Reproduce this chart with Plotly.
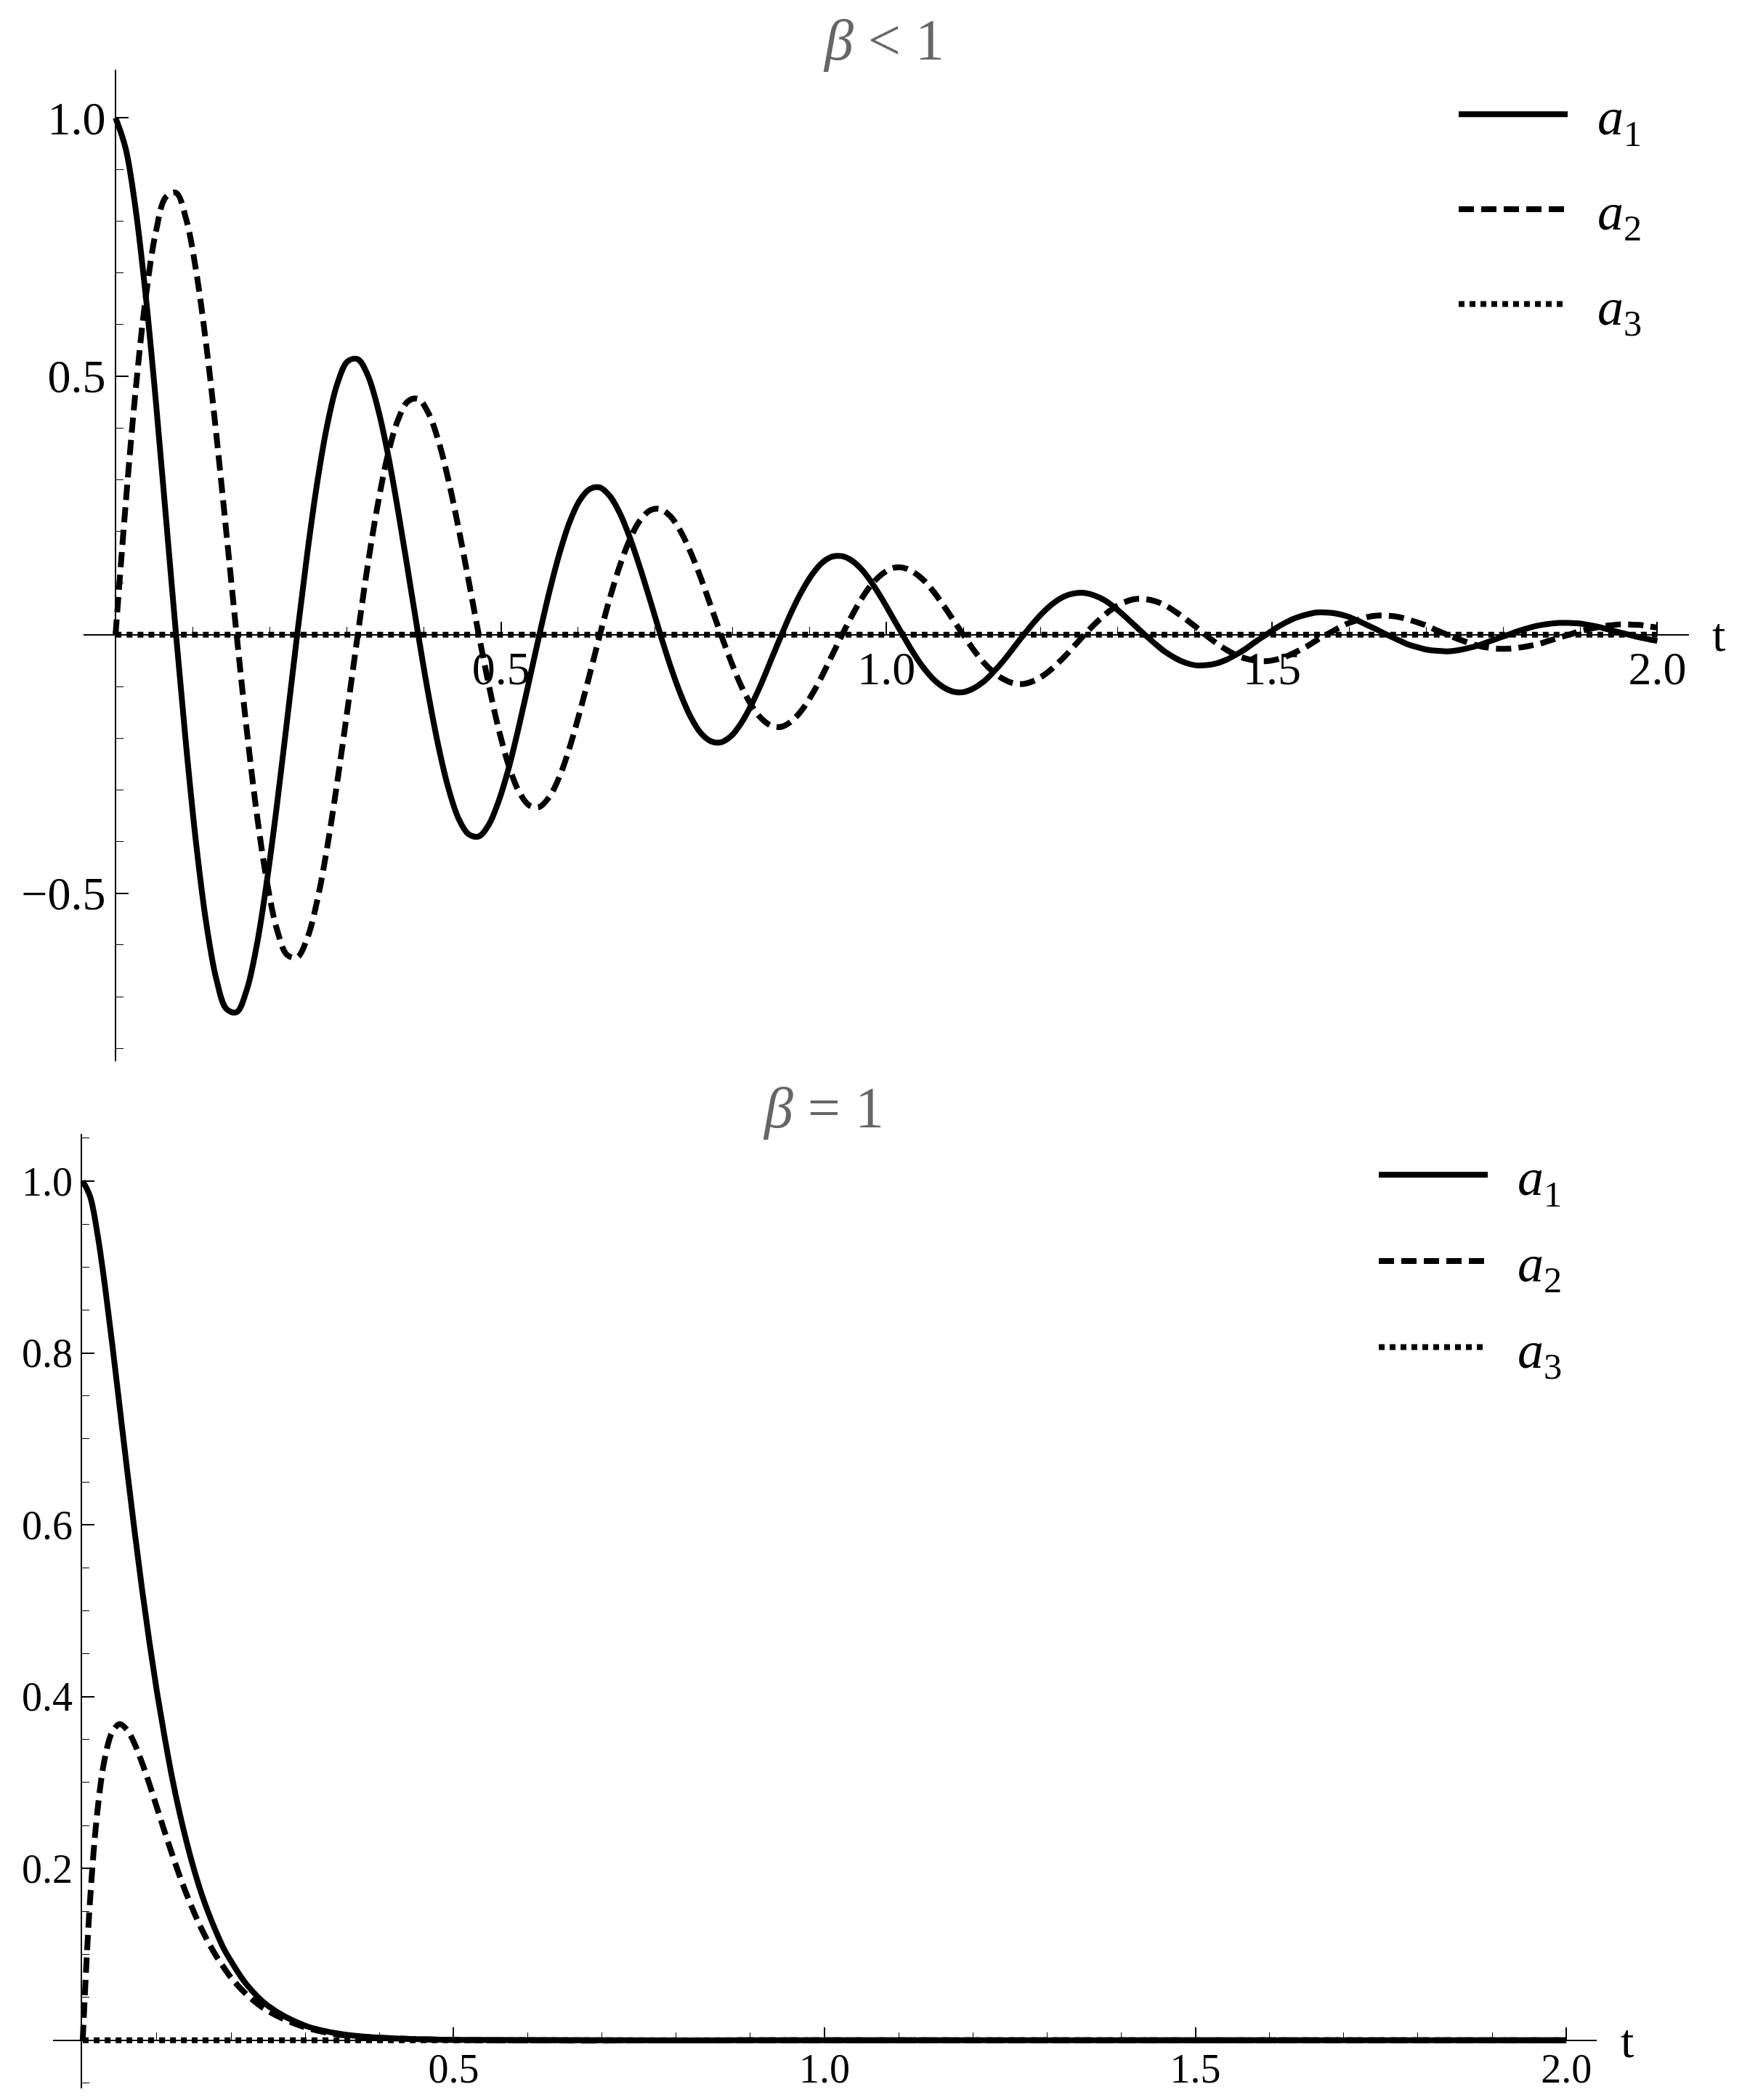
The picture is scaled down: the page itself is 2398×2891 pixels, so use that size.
import plotly.graph_objects as go

# beta < 1 : damped oscillation
t_under = [0, 0.0131, 0.0262, 0.0393, 0.0524, 0.0654, 0.0785, 0.0916, 0.1047, 0.1178, 0.1309, 0.1440,
           0.1571, 0.1702, 0.1833, 0.1963, 0.2094, 0.2225, 0.2356, 0.2487, 0.2618, 0.2749, 0.2880, 0.3011,
           0.3142, 0.3272, 0.3403, 0.3534, 0.3665, 0.3796, 0.3927, 0.4058, 0.4189, 0.4320, 0.4451, 0.4581,
           0.4712, 0.4843, 0.4974, 0.5105, 0.5236, 0.5367, 0.5498, 0.5629, 0.5760, 0.5890, 0.6021, 0.6152,
           0.6283, 0.6414, 0.6545, 0.6676, 0.6807, 0.6938, 0.7069, 0.7199, 0.7330, 0.7461, 0.7592, 0.7723,
           0.7854, 0.7985, 0.8116, 0.8247, 0.8378, 0.8508, 0.8639, 0.8770, 0.8901, 0.9032, 0.9163, 0.9294,
           0.9425, 0.9556, 0.9687, 0.9817, 0.9948, 1.0079, 1.0210, 1.0341, 1.0472, 1.0603, 1.0734, 1.0865,
           1.0996, 1.1126, 1.1257, 1.1388, 1.1519, 1.1650, 1.1781, 1.1912, 1.2043, 1.2174, 1.2305, 1.2435,
           1.2566, 1.2697, 1.2828, 1.2959, 1.3090, 1.3221, 1.3352, 1.3483, 1.3614, 1.3744, 1.3875, 1.4006,
           1.4137, 1.4268, 1.4399, 1.4530, 1.4661, 1.4792, 1.4923, 1.5053, 1.5184, 1.5315, 1.5446, 1.5577,
           1.5708, 1.5839, 1.5970, 1.6101, 1.6232, 1.6362, 1.6493, 1.6624, 1.6755, 1.6886, 1.7017, 1.7148,
           1.7279, 1.7410, 1.7541, 1.7671, 1.7802, 1.7933, 1.8064, 1.8195, 1.8326, 1.8457, 1.8588, 1.8719,
           1.8850, 1.8980, 1.9111, 1.9242, 1.9373, 1.9504, 1.9635, 1.9766, 1.9897, 2.0]
a1_under = [1.000, 0.941, 0.822, 0.654, 0.450, 0.227, 0, -0.215, -0.406, -0.559, -0.667, -0.724,
            -0.730, -0.687, -0.600, -0.477, -0.329, -0.166, 0, 0.157, 0.296, 0.408, 0.487, 0.529,
            0.533, 0.502, 0.438, 0.349, 0.240, 0.121, 0, -0.115, -0.216, -0.298, -0.356, -0.386,
            -0.390, -0.367, -0.320, -0.255, -0.175, -0.088, 0, 0.084, 0.158, 0.218, 0.260, 0.282,
            0.285, 0.268, 0.234, 0.186, 0.128, 0.065, 0, -0.061, -0.115, -0.159, -0.190, -0.206,
            -0.208, -0.196, -0.171, -0.136, -0.094, -0.047, 0, 0.045, 0.084, 0.116, 0.139, 0.151,
            0.152, 0.143, 0.125, 0.099, 0.068, 0.034, 0, -0.033, -0.062, -0.085, -0.101, -0.110,
            -0.111, -0.104, -0.091, -0.072, -0.050, -0.025, 0, 0.024, 0.045, 0.062, 0.074, 0.080,
            0.081, 0.076, 0.067, 0.053, 0.036, 0.018, 0, -0.017, -0.033, -0.045, -0.054, -0.059,
            -0.059, -0.056, -0.049, -0.039, -0.027, -0.013, 0, 0.013, 0.024, 0.033, 0.039, 0.043,
            0.043, 0.041, 0.036, 0.028, 0.019, 0.010, 0, -0.009, -0.018, -0.024, -0.029, -0.031,
            -0.032, -0.030, -0.026, -0.021, -0.014, -0.007, 0, 0.007, 0.013, 0.018, 0.021, 0.023,
            0.023, 0.022, 0.019, 0.015, 0.010, 0.005, 0, -0.005, -0.009, -0.012]
a2_under = [0, 0.252, 0.475, 0.654, 0.780, 0.847, 0.855, 0.804, 0.702, 0.559, 0.385, 0.194,
            0, -0.184, -0.347, -0.477, -0.570, -0.619, -0.624, -0.587, -0.513, -0.408, -0.281, -0.142,
            0, 0.135, 0.253, 0.349, 0.416, 0.452, 0.456, 0.429, 0.375, 0.298, 0.205, 0.104,
            0, -0.098, -0.185, -0.255, -0.304, -0.330, -0.333, -0.313, -0.274, -0.218, -0.150, -0.076,
            0, 0.072, 0.135, 0.186, 0.222, 0.241, 0.243, 0.229, 0.200, 0.159, 0.110, 0.055,
            0, -0.052, -0.099, -0.136, -0.162, -0.176, -0.178, -0.167, -0.146, -0.116, -0.080, -0.040,
            0, 0.038, 0.072, 0.099, 0.118, 0.129, 0.130, 0.122, 0.107, 0.085, 0.058, 0.029,
            0, -0.028, -0.053, -0.072, -0.086, -0.094, -0.095, -0.089, -0.078, -0.062, -0.043, -0.022,
            0, 0.020, 0.038, 0.053, 0.063, 0.069, 0.069, 0.065, 0.057, 0.045, 0.031, 0.016,
            0, -0.015, -0.028, -0.039, -0.046, -0.050, -0.051, -0.048, -0.042, -0.033, -0.023, -0.011,
            0, 0.011, 0.021, 0.028, 0.034, 0.037, 0.037, 0.035, 0.030, 0.024, 0.017, 0.008,
            0, -0.008, -0.015, -0.021, -0.025, -0.027, -0.027, -0.025, -0.022, -0.018, -0.012, -0.006,
            0, 0.006, 0.011, 0.015, 0.018, 0.020, 0.020, 0.019, 0.016, 0.014]
a3_under = [0, 0, 0]
t_a3 = [0, 1.0, 2.0]

# beta = 1 : critical damping
t_crit = [0, 0.01, 0.02, 0.03, 0.04, 0.05, 0.06, 0.07, 0.08, 0.09, 0.10,
          0.11, 0.12, 0.13, 0.14, 0.15, 0.16, 0.17, 0.18, 0.19, 0.20,
          0.22, 0.25, 0.30, 0.35, 0.40, 0.50, 1.0, 1.5, 2.0]
a1_crit = [1.000, 0.982, 0.938, 0.878, 0.809, 0.736, 0.663, 0.592, 0.525, 0.463, 0.406,
           0.355, 0.308, 0.267, 0.231, 0.199, 0.171, 0.147, 0.126, 0.107, 0.092,
           0.066, 0.040, 0.017, 0.007, 0.003, 0.0005, 0, 0, 0]
a2_crit = [0, 0.164, 0.268, 0.329, 0.359, 0.368, 0.361, 0.345, 0.323, 0.298, 0.271,
           0.244, 0.218, 0.193, 0.170, 0.149, 0.130, 0.113, 0.098, 0.085, 0.073,
           0.054, 0.034, 0.015, 0.006, 0.003, 0.0004, 0, 0, 0]
a3_crit = [0, 0, 0]

x_ticks = [0.5, 1.0, 1.5, 2.0]
x_ticktext = ["0.5", "1.0", "1.5", "2.0"]
y_ticks_top = [-0.5, 0.5, 1.0]
y_ticktext_top = ["\u22120.5", "0.5", "1.0"]
y_ticks_bot = [0.2, 0.4, 0.6, 0.8, 1.0]
y_ticktext_bot = ["0.2", "0.4", "0.6", "0.8", "1.0"]

GAP = "\u00a0\u00a0"
names = [GAP + "<i>a</i><sub>1</sub>", GAP + "<i>a</i><sub>2</sub>", GAP + "<i>a</i><sub>3</sub>"]
LW = 8
dashes = ["solid", "21px,10px", "8px,7px"]

W, H = 2398, 2891
SERIF = "Liberation Serif"

fig = go.Figure()

top = [(t_under, a1_under), (t_under, a2_under), (t_a3, a3_under)]
for i, (xs, ys) in enumerate(top):
    fig.add_trace(go.Scatter(x=xs, y=ys, mode="lines", name=names[i],
                             line=dict(color="black", width=LW, dash=dashes[i],
                                       shape="spline", smoothing=1.0, simplify=False),
                             xaxis="x", yaxis="y", legend="legend",
                             legendgroup="top%d" % i))

bot = [(t_crit, a1_crit), (t_crit, a2_crit), (t_a3, a3_crit)]
for i, (xs, ys) in enumerate(bot):
    fig.add_trace(go.Scatter(x=xs, y=ys, mode="lines", name=names[i],
                             line=dict(color="black", width=LW, dash=dashes[i],
                                       shape="spline", smoothing=1.0, simplify=False),
                             xaxis="x2", yaxis="y2", legend="legend2",
                             legendgroup="bot%d" % i))

top_xr = [-0.0415, 2.041]
top_yr = [-0.825, 1.093]
bot_xr = [-0.040, 2.041]
bot_yr = [-0.056, 1.055]

tick_font = dict(family=SERIF, size=64, color="black")
tick_font_b = dict(family=SERIF, size=56, color="black")

def xax(dom, rng, pos, font):
    return dict(domain=dom, range=rng, anchor="free", position=pos,
                showline=True, linecolor="black", linewidth=1.5,
                showgrid=False, zeroline=False,
                ticks="inside", ticklen=17, tickwidth=1.5, tickcolor="black",
                tickvals=x_ticks, ticktext=x_ticktext, tickfont=font,
                ticklabelstandoff=-10,
                minor=dict(ticks="inside", ticklen=10, tickwidth=1.2,
                           tickcolor="black", dtick=0.1, tick0=0, showgrid=False))

def yax(dom, rng, pos, vals, text, mdt, font):
    return dict(domain=dom, range=rng, anchor="free", position=pos,
                showline=True, linecolor="black", linewidth=1.5,
                showgrid=False, zeroline=False,
                ticks="inside", ticklen=17, tickwidth=1.5, tickcolor="black",
                tickvals=vals, ticktext=text, tickfont=font,
                minor=dict(ticks="inside", ticklen=10, tickwidth=1.2,
                           tickcolor="black", dtick=mdt, tick0=0, showgrid=False))

fig.update_layout(
    width=W, height=H, autosize=False,
    margin=dict(l=0, r=0, t=0, b=0),
    paper_bgcolor="white", plot_bgcolor="white",
    xaxis=xax([107 / W, 2317 / W], top_xr, 1 - 866 / H, tick_font),
    yaxis=yax([1 - 1453 / H, 1 - 88 / H], top_yr, 151 / W,
              y_ticks_top, y_ticktext_top, 0.1, tick_font),
    xaxis2=xax([65 / W, 2190 / W], bot_xr, 1 - 2801 / H, tick_font_b),
    yaxis2=yax([1 - 2867 / H, 1 - 1553 / H], bot_yr, 104 / W,
               y_ticks_bot, y_ticktext_bot, 0.05, tick_font_b),
    legend=dict(x=1995 / W, y=1 - 96 / H, xanchor="left", yanchor="top",
                bgcolor="rgba(0,0,0,0)", itemwidth=150, traceorder="grouped",
                tracegroupgap=34, font=dict(family=SERIF, size=72, color="black")),
    legend2=dict(x=1885 / W, y=1 - 1556 / H, xanchor="left", yanchor="top",
                 bgcolor="rgba(0,0,0,0)", itemwidth=150, traceorder="grouped",
                 tracegroupgap=22, font=dict(family=SERIF, size=72, color="black")),
    annotations=[
        dict(text="<i>β</i> &lt; 1", x=1208 / W, y=1 - 47 / H, xref="paper", yref="paper",
             showarrow=False, xanchor="center", yanchor="middle",
             font=dict(family=SERIF, size=80, color="#666666")),
        dict(text="<i>β</i> = 1", x=1125 / W, y=1 - 1517 / H, xref="paper", yref="paper",
             showarrow=False, xanchor="center", yanchor="middle",
             font=dict(family=SERIF, size=80, color="#666666")),
        dict(text="t", x=2358 / W, y=1 - 866 / H, xref="paper", yref="paper",
             showarrow=False, xanchor="center", yanchor="middle",
             font=dict(family=SERIF, size=66, color="black")),
        dict(text="t", x=2232 / W, y=1 - 2801 / H, xref="paper", yref="paper",
             showarrow=False, xanchor="center", yanchor="middle",
             font=dict(family=SERIF, size=66, color="black")),
    ],
)

fig.write_html("out.html")
